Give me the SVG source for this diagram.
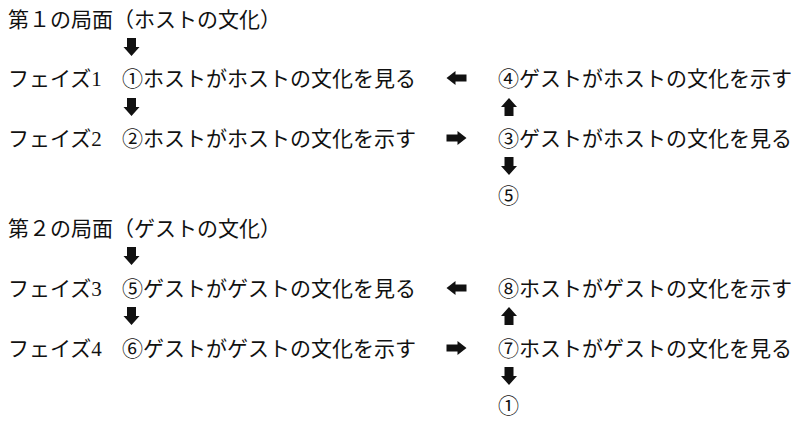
<svg xmlns="http://www.w3.org/2000/svg" xmlns:xlink="http://www.w3.org/1999/xlink" width="800" height="428" viewBox="0 0 800 428">
  <style>
    text { font-family: "Liberation Serif", "Noto Sans CJK JP", serif; font-size: 21px; fill: #111; }
    .arr { fill: #111; }
  </style>
  <defs>
    <path id="adown" d="M-4.5,-9 H4.5 V0 H8 L0,9 L-8,0 H-4.5 Z"/>
    <path id="aup" d="M-4.5,9 H4.5 V0 H8 L0,-9 L-8,0 H-4.5 Z"/>
    <path id="aright" d="M-10,-3.5 H1 V-7 L10,0 L1,7 V3.5 H-10 Z"/>
    <path id="aleft" d="M10,-3.5 H-1 V-7 L-10,0 L-1,7 V3.5 H10 Z"/>
  </defs>
  <rect width="800" height="428" fill="#ffffff"/>

  <g id="title1"><text x="8" y="26.5">第１の局面（ホストの文化）</text></g>
  <g id="phase1"><text x="8" y="85.5">フェイズ1</text></g>
  <g id="phase2"><text x="8" y="145.5">フェイズ2</text></g>
  <g id="n1"><text x="122" y="85.5">①ホストがホストの文化を見る</text></g>
  <g id="n2"><text x="122" y="145.5">②ホストがホストの文化を示す</text></g>
  <g id="n4"><text x="498" y="85.5">④ゲストがホストの文化を示す</text></g>
  <g id="n3"><text x="498" y="145.5">③ゲストがホストの文化を見る</text></g>
  <g id="n5a"><text x="498" y="203">⑤</text></g>

  <g id="title2"><text x="8" y="236">第２の局面（ゲストの文化）</text></g>
  <g id="phase3"><text x="8" y="295.5">フェイズ3</text></g>
  <g id="phase4"><text x="8" y="355.5">フェイズ4</text></g>
  <g id="n5"><text x="122" y="295.5">⑤ゲストがゲストの文化を見る</text></g>
  <g id="n6"><text x="122" y="355.5">⑥ゲストがゲストの文化を示す</text></g>
  <g id="n8"><text x="498" y="295.5">⑧ホストがゲストの文化を示す</text></g>
  <g id="n7"><text x="498" y="355.5">⑦ホストがゲストの文化を見る</text></g>
  <g id="n1a"><text x="498" y="413">①</text></g>

  <g id="connectors" class="arr">
    <use xlink:href="#adown" x="131.5" y="47"/>
    <use xlink:href="#adown" x="131.5" y="107"/>
    <use xlink:href="#aleft" x="456.5" y="78"/>
    <use xlink:href="#aright" x="456.5" y="138"/>
    <use xlink:href="#aup" x="509" y="107"/>
    <use xlink:href="#adown" x="509" y="166"/>

    <use xlink:href="#adown" x="131.5" y="256"/>
    <use xlink:href="#adown" x="131.5" y="316"/>
    <use xlink:href="#aleft" x="456.5" y="288"/>
    <use xlink:href="#aright" x="456.5" y="348"/>
    <use xlink:href="#aup" x="509" y="316"/>
    <use xlink:href="#adown" x="509" y="376"/>
  </g>
</svg>
